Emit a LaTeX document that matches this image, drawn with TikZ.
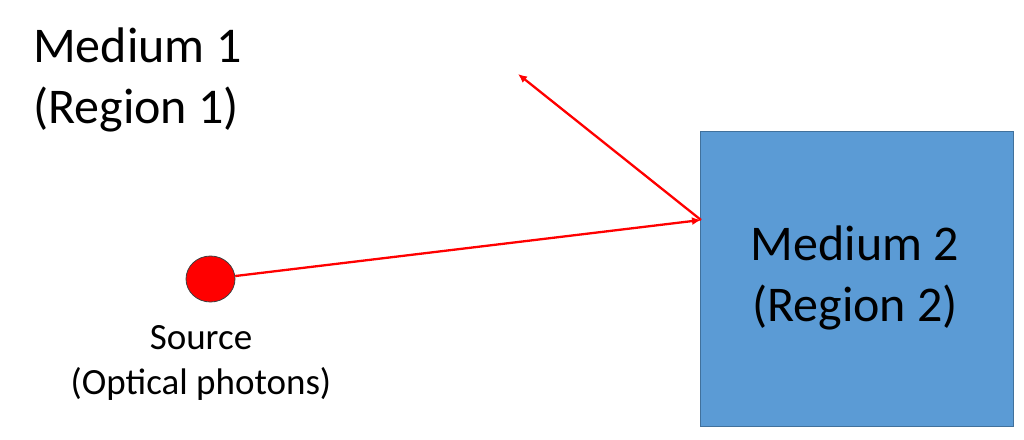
\documentclass[tikz,border=0pt]{standalone}
\usepackage{fontspec}
\setmainfont{Carlito}
\usetikzlibrary{arrows.meta,shapes.geometric}
\definecolor{boxblue}{HTML}{5B9BD5}
\definecolor{boxedge}{HTML}{41719C}
\def\BigText{\fontsize{50}{61}\selectfont}
\def\SmallText{\fontsize{37}{45}\selectfont}
\begin{document}
\begin{tikzpicture}[x=1pt,y=-1pt,
    label text/.style={inner sep=0pt, align=center},
    ray/.style={red, line width=2.3pt, -{Latex[length=9pt,width=8pt]}}]
    \useasboundingbox (0,0) rectangle (1024,439);
    % medium 2 box
    \node (medium2) [draw=boxedge, fill=boxblue, line width=0.8pt, minimum width=313, minimum height=295, inner sep=0pt, anchor=north west] at (700,131) {};
    \node (medium2text) [label text, font=\BigText] at (855,278) {Medium 2\\ (Region 2)};
    \node (medium1) [label text, font=\BigText, align=left, anchor=west] at (33,80) {Medium 1\\ (Region 1)};
    % source
    \node (source) [ellipse, draw=black!75, fill=red, line width=0.8pt, minimum width=49, minimum height=46, inner sep=0pt] at (210.5,279) {};
    \node (sourcetext) [label text, font=\SmallText] at (201,363) {Source\\ (Optical photons)};
    \coordinate (hit) at (701,220);
    \coordinate (out) at (518,74);
    \draw[ray] (source) -- (hit);
    \draw[ray] (hit) -- (out);
\end{tikzpicture}
\end{document}
